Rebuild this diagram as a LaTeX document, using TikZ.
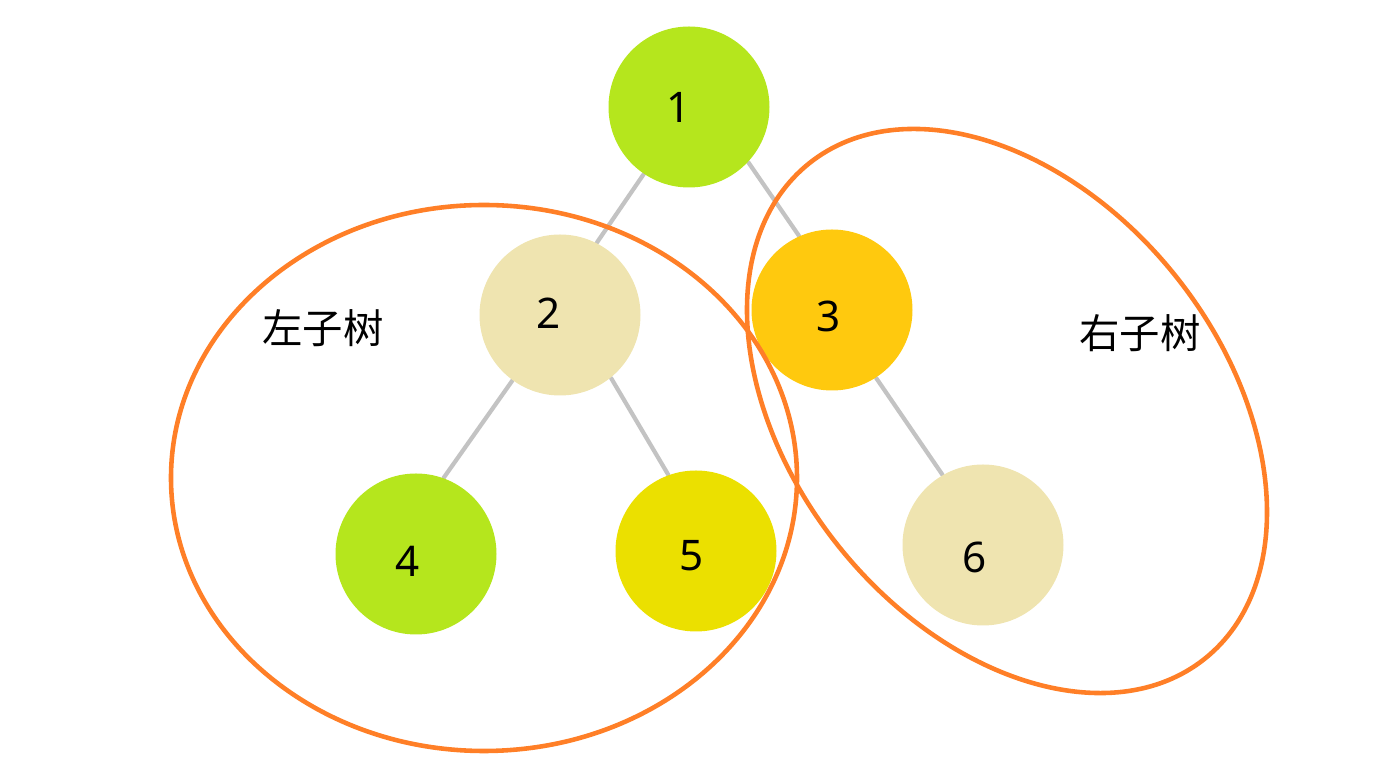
\documentclass[tikz,border=0pt]{standalone}
\usepackage{fontspec}
\setmainfont{Noto Sans}
\newfontfamily\cjk{Noto Sans CJK SC}
\usepackage{tikz}
\usetikzlibrary{positioning,calc,backgrounds}

\definecolor{limegreen}{HTML}{B5E61D}
\definecolor{sandbeige}{HTML}{EFE4B0}
\definecolor{goldyellow}{HTML}{FFC90E}
\definecolor{lemon}{HTML}{EBE000}
\definecolor{subtreeorange}{HTML}{FF7F27}
\definecolor{edgegray}{HTML}{C3C3C3}

\begin{document}
\begin{tikzpicture}[
  treenode/.style={circle,minimum size=1.61cm,inner sep=0pt},
  numtext/.style={font=\fontsize{12}{14}\selectfont,inner sep=0pt},
  treeedge/.style={edgegray,line width=1.2pt,line cap=round},
  subtree/.style={subtreeorange,line width=1.3pt},
  treelabel/.style={font=\cjk\fontsize{11.5}{13}\selectfont}
]
  \useasboundingbox (0,0) rectangle (13.87,7.62);

  % nodes of the tree
  \node[treenode,fill=limegreen,label={[numtext,xshift=-0.10cm]center:1}]  (n1) at (6.89,6.55) {};
  \node[treenode,fill=sandbeige,label={[numtext,xshift=-0.11cm,yshift=0.02cm]center:2}]  (n2) at (5.60,4.47) {};
  \node[treenode,fill=goldyellow,label={[numtext,xshift=-0.03cm,yshift=-0.06cm]center:3}] (n3) at (8.32,4.52) {};
  \node[treenode,fill=limegreen,label={[numtext,xshift=-0.08cm,yshift=-0.07cm]center:4}]  (n4) at (4.16,2.08) {};
  \node[treenode,fill=lemon,label={[numtext,xshift=-0.04cm,yshift=-0.05cm]center:5}]      (n5) at (6.96,2.11) {};
  \node[treenode,fill=sandbeige,label={[numtext,xshift=-0.08cm,yshift=-0.12cm]center:6}]  (n6) at (9.83,2.17) {};

  % edges
  \begin{scope}[on background layer]
    \foreach \a/\sa/\b/\eb in {n1/236/n2/63,n1/317/n3/114,n2/234/n4/70,n2/309/n5/110,n3/303/n6/120}
      \draw[treeedge] (\a.\sa) -- (\b.\eb);
  \end{scope}

  % left and right subtree
  \draw[subtree] (4.84,2.84) ellipse [x radius=3.13cm,y radius=2.73cm];
  \draw[subtree,rotate around={-51.4:(10.07,3.51)}] (10.07,3.51) ellipse [x radius=3.17cm,y radius=2.16cm];
  \node[treelabel] (leftlbl)  at (3.23,4.34) {左子树};
  \node[treelabel] (rightlbl) at (11.40,4.29) {右子树};
\end{tikzpicture}
\end{document}
